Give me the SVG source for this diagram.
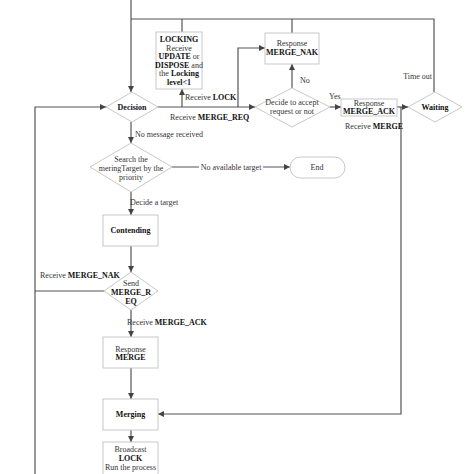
<svg xmlns="http://www.w3.org/2000/svg" width="474" height="474" viewBox="0 0 474 474">
<defs>
<marker id="ah" viewBox="0 0 10 10" refX="10" refY="5" markerWidth="6" markerHeight="6" markerUnits="userSpaceOnUse" orient="auto">
<path d="M0,0 L10,5 L0,10 z" fill="#444"/>
</marker>
<style>
text{font-family:"Liberation Serif","Times New Roman",serif;font-size:8px;fill:#333}
.b{font-weight:bold;fill:#111}
.c{text-anchor:middle}
.n{fill:#fff;stroke:#c8c8c8;stroke-width:1}
.l{fill:none;stroke:#555;stroke-width:1.2}
.a{marker-end:url(#ah)}
</style>
</defs>
<rect width="474" height="474" fill="#fff"/>
<g id="connectors">
<path class="l a" d="M131,0 V92"/>
<path class="l" d="M434,92 V19 H131"/>
<path class="l" d="M182,32 V19"/>
<path class="l" d="M292,33 V19"/>
<path class="l a" d="M35,474 V107 H106"/>
<path class="l" d="M104,291 H35"/>
<path class="l a" d="M158,107 H255"/>
<path class="l a" d="M182,107 V89"/>
<path class="l a" d="M238,107 V48 H265"/>
<path class="l a" d="M292,88 V64"/>
<path class="l a" d="M330,107 H341"/>
<path class="l a" d="M397,107 H408"/>
<path class="l a" d="M401,107 V414 H158"/>
<path class="l a" d="M131,122 V143"/>
<path class="l a" d="M172,167 H290"/>
<path class="l a" d="M131,192 V215"/>
<path class="l a" d="M131,246 V272"/>
<path class="l a" d="M131,310 V337"/>
<path class="l a" d="M131,368 V399"/>
<path class="l a" d="M131,430 V442"/>
<rect x="199" y="162" width="64" height="10" fill="#fff"/>
<text x="231" y="170" class="c">No available target</text>
<text x="185" y="100">Receive <tspan class="b">LOCK</tspan></text>
<text x="170" y="120">Receive <tspan class="b">MERGE_REQ</tspan></text>
<text x="300" y="83">No</text>
<text x="329" y="99">Yes</text>
<text x="432" y="79" text-anchor="end">Time out</text>
<text x="345" y="129">Receive <tspan class="b">MERGE</tspan></text>
<text x="135" y="137">No message received</text>
<text x="130" y="205">Decide a target</text>
<text x="40" y="278">Receive <tspan class="b">MERGE_NAK</tspan></text>
<text x="127" y="325">Receive <tspan class="b">MERGE_ACK</tspan></text>
</g>
<g id="locking">
<rect class="n" x="156" y="32" width="46" height="57"/>
<text x="179" y="42" class="c b">LOCKING</text>
<text x="179" y="50.5" class="c">Receive</text>
<text x="179" y="59" class="c"><tspan class="b">UPDATE</tspan> or</text>
<text x="179" y="67.5" class="c"><tspan class="b">DISPOSE</tspan> and</text>
<text x="179" y="76" class="c">the <tspan class="b">Locking</tspan></text>
<text x="179" y="84.5" class="c b">level&lt;1</text>
</g>
<g id="nak">
<rect class="n" x="265" y="33" width="54" height="31"/>
<text x="292" y="46" class="c">Response</text>
<text x="292" y="55" class="c b">MERGE_NAK</text>
</g>
<g id="decision">
<path class="n" d="M106,107 L132,92 L158,107 L132,122 Z"/>
<text x="132" y="110" class="c b">Decision</text>
</g>
<g id="decide">
<path class="n" d="M255,107 L292,88 L330,107 L292,127 Z"/>
<text x="292" y="105" class="c">Decide to accept</text>
<text x="292" y="114" class="c">request or not</text>
</g>
<g id="ack">
<rect class="n" x="341" y="99" width="56" height="17"/>
<text x="369" y="106" class="c">Response</text>
<text x="369" y="114" class="c b">MERGE_ACK</text>
</g>
<g id="waiting">
<path class="n" d="M408,107 L435,92 L462,107 L435,122 Z"/>
<text x="435" y="110" class="c b">Waiting</text>
</g>
<g id="search">
<path class="n" d="M90,167 L131,143 L172,167 L131,192 Z"/>
<text x="131" y="162" class="c">Search the</text>
<text x="131" y="171" class="c">meringTarget by the</text>
<text x="131" y="180" class="c">priority</text>
</g>
<g id="end">
<rect class="n" x="290" y="157" width="55" height="21" rx="10.5"/>
<text x="317" y="170" class="c">End</text>
</g>
<g id="contending">
<rect class="n" x="103" y="215" width="55" height="31"/>
<text x="130.5" y="233" class="c b">Contending</text>
</g>
<g id="send">
<path class="n" d="M104,291 L131,272 L158,291 L131,310 Z"/>
<text x="131" y="286" class="c">Send</text>
<text x="131" y="295" class="c b">MERGE_R</text>
<text x="131" y="304" class="c b">EQ</text>
</g>
<g id="response-merge">
<rect class="n" x="103" y="337" width="55" height="31"/>
<text x="130.5" y="352" class="c">Response</text>
<text x="130.5" y="360" class="c b">MERGE</text>
</g>
<g id="merging">
<rect class="n" x="103" y="399" width="55" height="31"/>
<text x="130.5" y="417" class="c b">Merging</text>
</g>
<g id="broadcast">
<rect class="n" x="103" y="442" width="55" height="40"/>
<text x="130.5" y="452" class="c">Broadcast</text>
<text x="130.5" y="461" class="c b">LOCK</text>
<text x="130.5" y="470" class="c">Run the process</text>
</g>
</svg>
